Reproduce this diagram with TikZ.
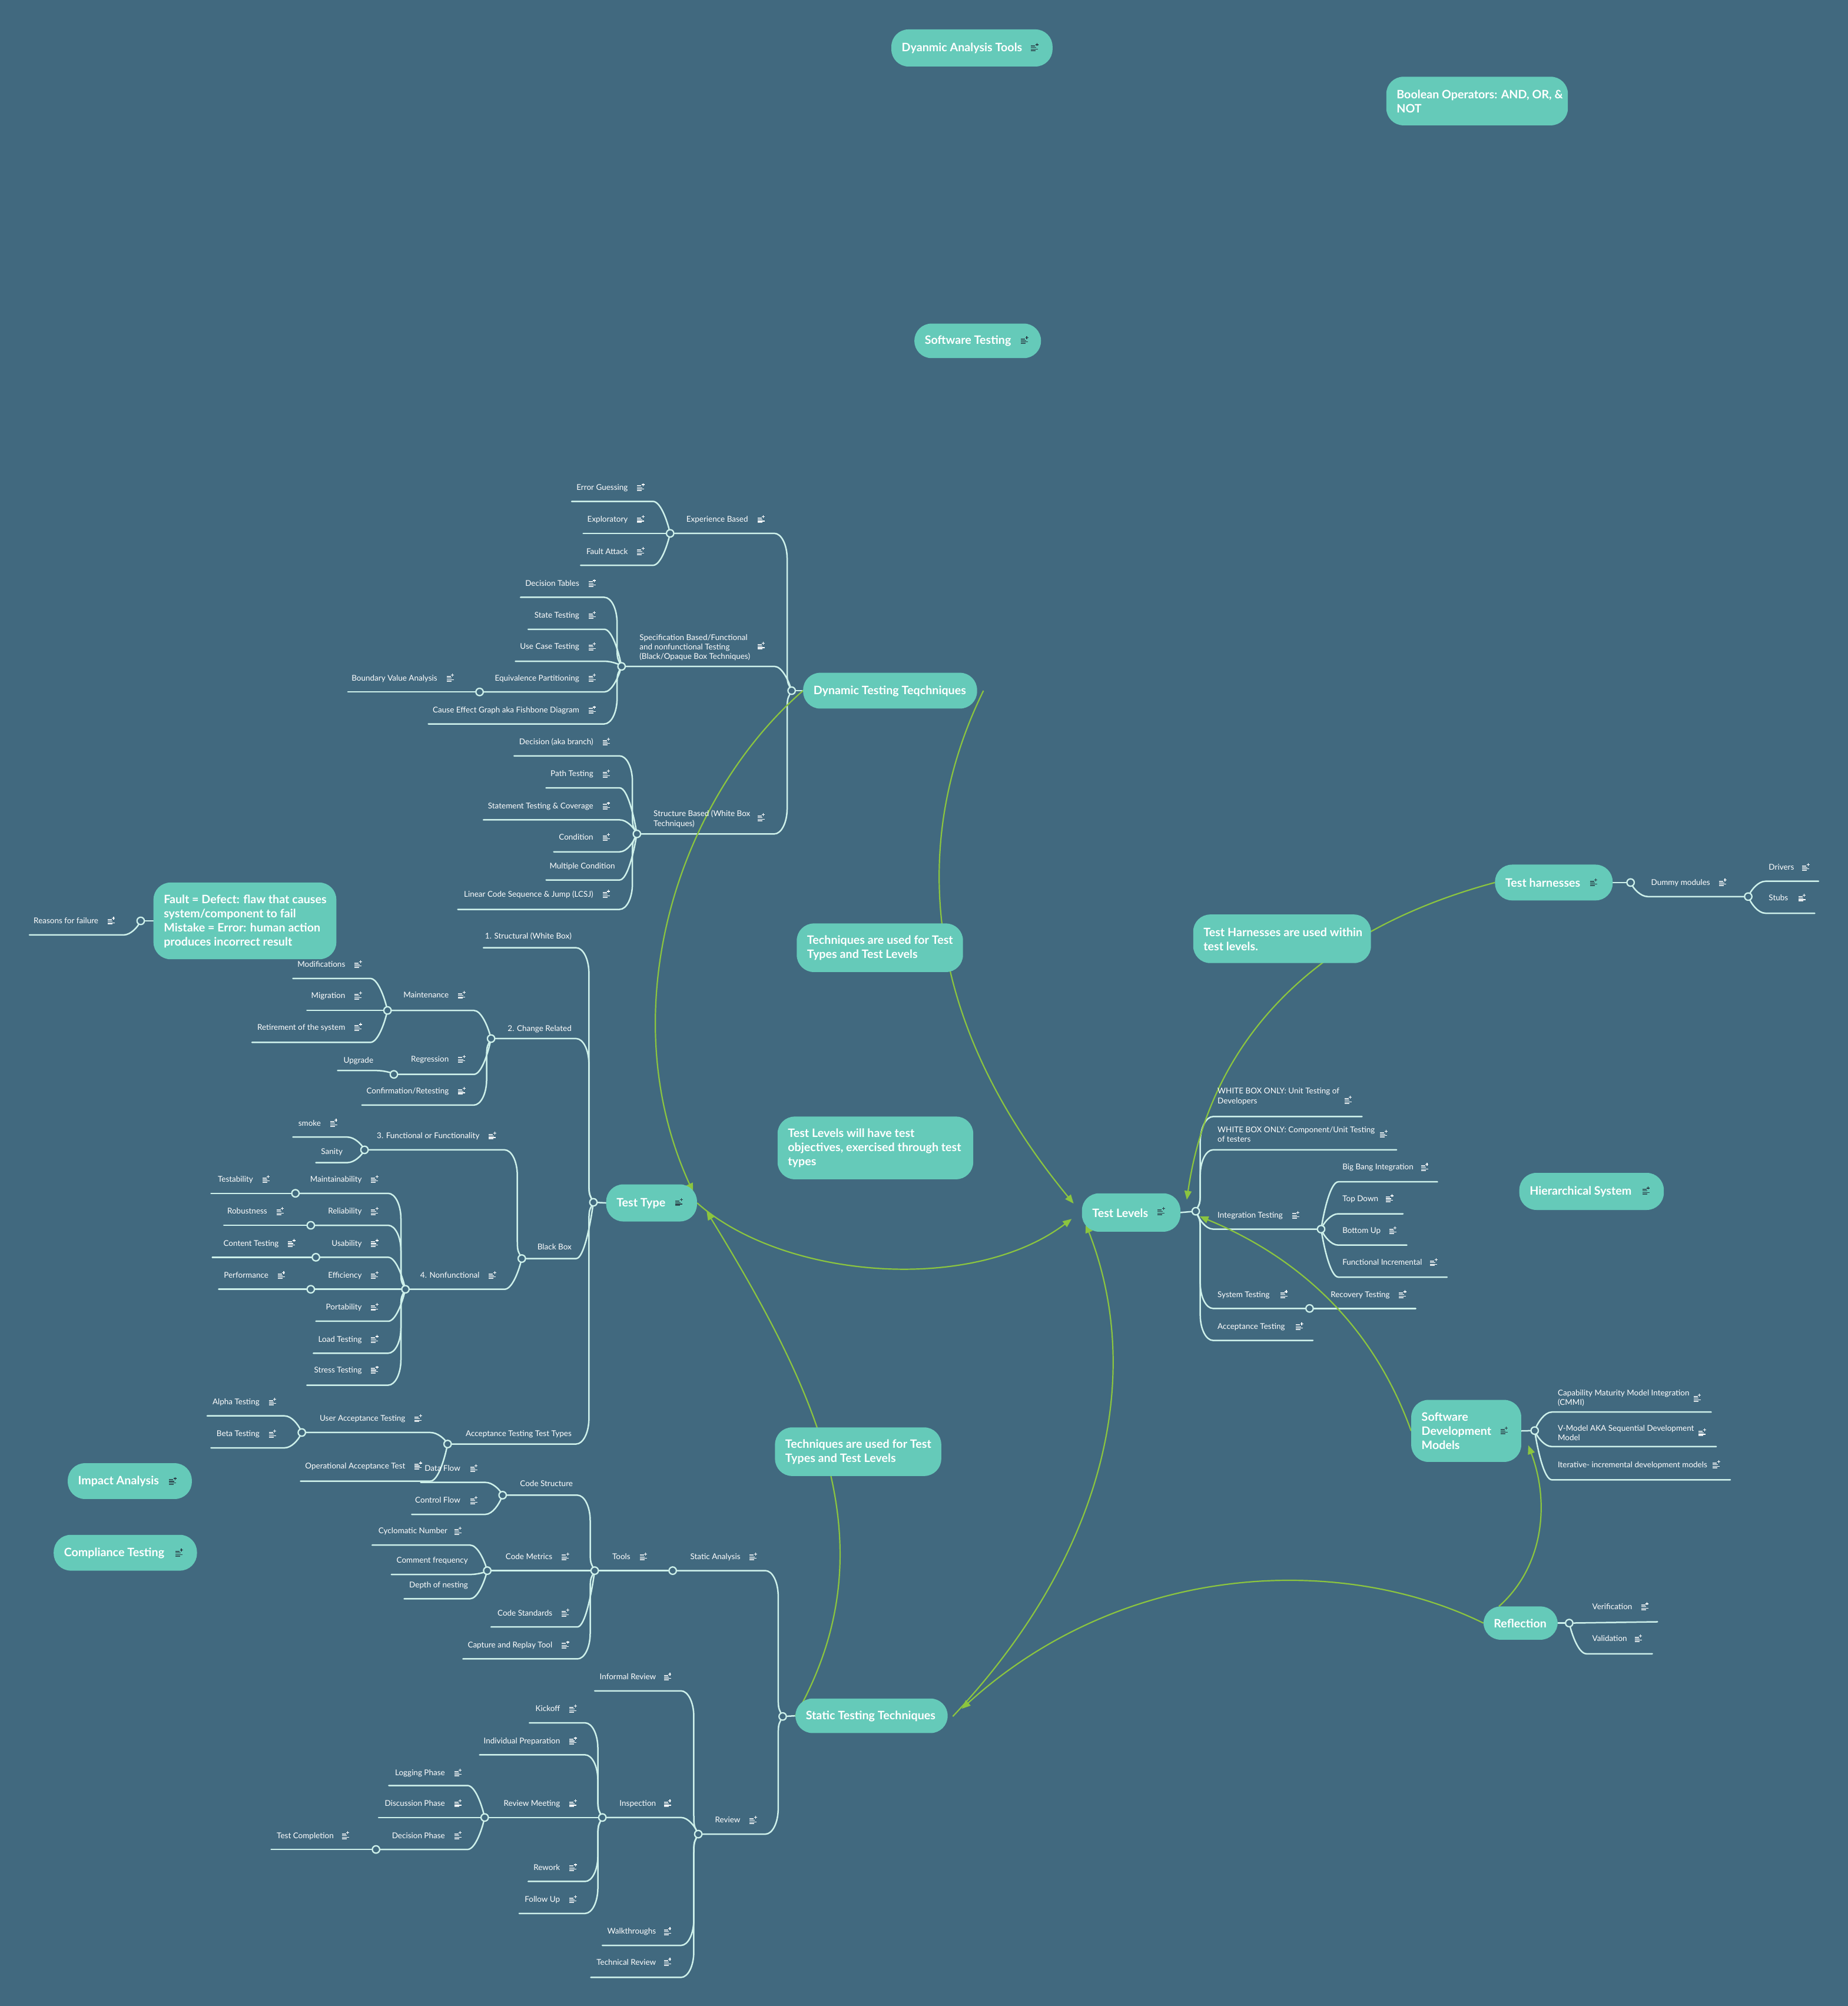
\documentclass[tikz,border=0pt]{standalone}
\usepackage{fontspec}
\setmainfont{Lato}
\usetikzlibrary{arrows.meta}
\definecolor{bgc}{HTML}{41697F}
\definecolor{topc}{HTML}{65CAB9}
\definecolor{linec}{HTML}{CDF0EA}
\definecolor{relc}{HTML}{8BC53F}
\definecolor{icod}{HTML}{2B3F48}
\pgfdeclarelayer{back}\pgfdeclarelayer{branch}\pgfdeclarelayer{rel}
\pgfsetlayers{back,branch,rel,main}
\tikzset{
 br/.style={draw=linec,line width=2.5pt,line cap=round},
 rel/.style={draw=relc,line width=2.2pt,-{Triangle[length=15pt,width=12pt]}},
 circ/.style={circle,draw=linec,line width=2.3pt,fill=bgc,minimum size=12.5pt,inner sep=0pt},
 lab/.style={font=\fontsize{13.5}{16.3}\selectfont,text=white,inner sep=0pt,text height=9.5pt,text depth=3pt,yshift=-1.5pt},
 labm/.style={font=\fontsize{13.5}{16.3}\selectfont,text=white,inner sep=0pt,align=left,yshift=-0.5pt},
 toptxt/.style={font=\fontsize{19.7}{24}\selectfont\bfseries,text=white,inner sep=0pt,align=left,anchor=west,yshift=-0.5pt},
 topbox/.style={fill=topc,rounded corners=29pt,inner sep=0pt}
}
\makeatletter
\newcommand\StorePt[3]{\expandafter\gdef\csname px@#1\endcsname{#2}\expandafter\gdef\csname py@#1\endcsname{#3}}
\newcommand\Ico[3][white]{\begin{scope}[shift={(#2,#3)},x=1pt,y=-1pt]
 \draw[#1,opacity=0.8,line width=2pt] (-6,-2.2)--(1,-2.2) (-6,5.4)--(2,5.4);
 \draw[#1,line width=1.1pt] (-6,0.5)--(2.5,0.5) (-6,3)--(6,3);
 \draw[#1,line width=1.3pt] (4,-7)--(4,-2) (1.5,-4.5)--(6.5,-4.5);
\end{scope}}
\newcommand\Cir[3]{\node[circ] (#1) at (#2,#3) {};\StorePt{#1}{#2}{#3}}
\newcommand\Leaf[3]{\coordinate (#1) at (#2,#3);\StorePt{#1}{#2}{#3}}
\newcommand\BR[2]{%
 \edef\brcx{\csname px@#1\endcsname}\edef\brcy{\csname py@#1\endcsname}%
 \edef\brlx{\csname px@#2\endcsname}\edef\brly{\csname py@#2\endcsname}%
 \pgfmathsetmacro\brd{\brly-\brcy}%
 \pgfmathsetmacro\brad{abs(\brd)}%
 \pgfmathsetmacro\brs{\brd<0?-1:1}%
 \pgfmathsetmacro\brdir{\brlx<\brcx?-1:1}%
 \pgfmathsetmacro\bra{\brs*20}%
 \pgfmathsetmacro\brv{\brcx+\brdir*3.5}%
 \pgfmathsetmacro\bre{\brcx+\brdir*13.5}%
 \pgfmathsetmacro\brm{\brcx+\brdir*8}%
 \pgfmathsetmacro\brp{\brcx+\brdir*2.5}%
 \pgfmathsetmacro\brq{\brcx+\brdir*7.5}%
 \begin{pgfonlayer}{branch}%
 \ifdim\brad pt<1.5pt
  \draw[br] (#1) -- (#2);
 \else\ifdim\brad pt<45pt
  \draw[br] (#1) .. controls (\brp,\brcy+0.4*\brd) and (\brq,\brly) .. (\bre,\brly) -- (#2);
 \else
  \draw[br] (#1) .. controls (\brv,\brcy+0.35*\bra) .. (\brv,\brcy+\bra) -- (\brv,\brly-\bra) .. controls (\brv,\brly-0.45*\bra) and (\brm,\brly) .. (\bre,\brly) -- (#2);
 \fi\fi
 \end{pgfonlayer}}
% leaf, left tree: name parent lineLeft lineY textEast textY text iconX
\newcommand\LfL[8]{\Leaf{#1}{#3}{#4}\BR{#2}{#1}\node[lab,anchor=east] (#1-t) at (#5,#6) {#7};\if\relax\detokenize{#8}\relax\else\Ico{#8}{#6}\fi}
% leaf, right tree: name parent lineRight lineY textWest textY text iconX
\newcommand\LfR[8]{\Leaf{#1}{#3}{#4}\BR{#2}{#1}\node[lab,anchor=west] (#1-t) at (#5,#6) {#7};\if\relax\detokenize{#8}\relax\else\Ico{#8}{#6}\fi}
% circle child: name parent cx cy textEdge textY text iconX
\newcommand\CrL[8]{\Cir{#1}{#3}{#4}\BR{#2}{#1}\node[lab,anchor=east] (#1-t) at (#5,#6) {#7};\if\relax\detokenize{#8}\relax\else\Ico{#8}{#6}\fi}
\newcommand\CrR[8]{\Cir{#1}{#3}{#4}\BR{#2}{#1}\node[lab,anchor=west] (#1-t) at (#5,#6) {#7};\if\relax\detokenize{#8}\relax\else\Ico{#8}{#6}\fi}
% topic: name x1 y1 x2 y2 text
\newcommand\Topic[6]{%
 \pgfmathsetmacro\tw{(#4-#2)*2.1723}\pgfmathsetmacro\th{(#5-#3)*2.1723}%
 \pgfmathsetmacro\tcx{(#2+#4)/2}\pgfmathsetmacro\tcy{(#3+#5)/2}\pgfmathsetmacro\ttx{#2+8}%
 \node[topbox,minimum width=\tw pt,minimum height=\th pt] (#1) at (\tcx,\tcy) {};
 \node[toptxt] (#1-t) at (\ttx,\tcy) {#6};}
\makeatother
\begin{document}
\begin{tikzpicture}[x=2.1723pt,y=-2.1723pt]
\begin{pgfonlayer}{back}
\fill[bgc] (0,0) rectangle (1445,1568.4);
\end{pgfonlayer}
\useasboundingbox (0,0) rectangle (1445,1568.4);

% Topics
\Topic{dat}{697}{23}{823}{52}{Dyanmic Analysis Tools}\Ico[icod]{809}{37}
\Topic{bool}{1084}{60}{1226}{98}{Boolean Operators: AND, OR, \&\\NOT}
\Topic{soft}{715}{253}{814}{280}{Software Testing}\Ico[icod]{801}{266}
\Topic{dyn}{628}{526}{764}{554}{Dynamic Testing Teqchniques}
\Topic{tech1}{623}{722}{753}{760}{Techniques are used for Test\\Types and Test Levels}
\Topic{harn}{933}{715}{1072}{753}{Test Harnesses are used within\\test levels.}
\Topic{th}{1169}{676}{1261}{704}{Test harnesses}\Ico[icod]{1246}{690}
\Topic{fault}{120}{690}{263}{750}{Fault = Defect: flaw that causes\\system/component to fail\\Mistake = Error: human action\\produces incorrect result}
\Topic{obj}{608}{873}{761}{922}{Test Levels will have test\\objectives, exercised through test\\types}
\Topic{tt}{474}{926}{545}{955}{Test Type}\Ico[icod]{531}{940}
\Topic{tl}{846}{933}{923}{963}{Test Levels}\Ico[icod]{908}{947}
\Topic{hier}{1188}{917}{1301}{946}{Hierarchical System}\Ico[icod]{1287}{931}
\Topic{sdm}{1103.5}{1094.5}{1189.5}{1143}{Software\\Development\\Models}\Ico[icod]{1176}{1118.5}
\Topic{tech2}{606}{1116}{736}{1154}{Techniques are used for Test\\Types and Test Levels}
\Topic{imp}{53}{1144}{150}{1172}{Impact Analysis}\Ico[icod]{135}{1158}
\Topic{comp}{42}{1200}{154}{1228}{Compliance Testing}\Ico[icod]{140}{1214}
\Topic{refl}{1160}{1256}{1218}{1282}{Reflection}
\Topic{st}{622}{1328}{741}{1355}{Static Testing Techniques}

% Root circles
\Cir{cD}{619}{540}
\Cir{cTT}{464}{940}
\Cir{cTL}{935}{947}
\Cir{cST}{612}{1342}
\Cir{cFl}{110}{720}
\Cir{cTH}{1275}{690}
\Cir{cSD}{1200}{1118.5}
\Cir{cRf}{1227}{1269}
\begin{pgfonlayer}{branch}
\draw[br] (cD) -- (dyn.west);
\draw[br] (cTT) -- (tt.west);
\draw[br] (cTL) -- (tl.east);
\draw[br] (cST) -- (st.west);
\draw[br] (cFl) -- (fault.west);
\draw[br] (cTH) -- (th.east);
\draw[br] (cSD) -- (sdm.east);
\draw[br] (cRf) -- (refl.east);
\end{pgfonlayer}

% Dynamic testing
\CrL{cE}{cD}{524}{417}{585}{406}{Experience Based}{595}
\LfL{a1}{cE}{447}{392}{491}{381}{Error Guessing}{501}
\LfL{a2}{cE}{456}{417}{491}{406}{Exploratory}{501}
\LfL{a3}{cE}{454}{442}{491}{431}{Fault Attack}{501}
\Cir{cS}{486}{521}\BR{cD}{cS}
\node[labm,anchor=west] (cS-t) at (500,506) {Specification Based/Functional\\and nonfunctional Testing\\(Black/Opaque Box Techniques)};\Ico{595}{505}
\LfL{b1}{cS}{407}{467}{453}{456}{Decision Tables}{463}
\LfL{b2}{cS}{413}{492}{453}{481}{State Testing}{463}
\LfL{b3}{cS}{403}{517}{453}{505.5}{Use Case Testing}{463}
\CrL{cEq}{cS}{375}{541}{453}{530}{Equivalence Partitioning}{463}
\LfL{b4}{cEq}{272}{541}{342}{530}{Boundary Value Analysis}{352}
\LfL{b5}{cS}{335}{566}{453}{555}{Cause Effect Graph aka Fishbone Diagram}{463}
\Cir{cF}{498}{652}\BR{cD}{cF}
\node[labm,anchor=west] (cF-t) at (511,640) {Structure Based (White Box\\Techniques)};\Ico{595}{639}
\LfL{c1}{cF}{402}{591}{464}{580}{Decision (aka branch)}{474}
\LfL{c2}{cF}{427}{616}{464}{605}{Path Testing}{474}
\LfL{c3}{cF}{378}{641}{464}{630}{Statement Testing \& Coverage}{474}
\LfL{c4}{cF}{433}{666}{464}{654.5}{Condition}{474}
\LfL{c5}{cF}{427}{688}{481}{677}{Multiple Condition}{}
\LfL{c6}{cF}{358}{711}{464}{699}{Linear Code Sequence \& Jump (LCSJ)}{474}

% Fault
\LfL{f1}{cFl}{23}{731}{77}{720}{Reasons for failure}{87}

% Test type
\LfL{d1}{cTT}{378}{741}{447}{732}{1. Structural (White Box)}{}
\CrL{c2R}{cTT}{384}{812}{447}{804}{2. Change Related}{}
\CrL{cM}{c2R}{303}{790}{351}{778}{Maintenance}{361}
\LfL{e1}{cM}{229}{765}{270}{754}{Modifications}{280}
\LfL{e2}{cM}{240}{790}{270}{778.5}{Migration}{280}
\LfL{e3}{cM}{197}{815}{270}{803}{Retirement of the system}{280}
\CrL{cR}{c2R}{308}{840}{351}{828}{Regression}{361}
\LfL{e4}{cR}{264}{837}{292}{829}{Upgrade}{}
\LfL{e5}{c2R}{283}{864}{351}{853}{Confirmation/Retesting}{361}
\CrL{cB}{cTT}{408}{984}{447}{975}{Black Box}{}
\CrL{c3F}{cB}{285}{899}{375}{888}{3. Functional or Functionality}{385}
\LfL{g1}{c3F}{229}{889}{251}{878}{smoke}{261}
\LfL{g2}{c3F}{247}{909}{268}{900.5}{Sanity}{}
\CrL{c4N}{cB}{317}{1008}{375}{997}{4. Nonfunctional}{385}
\CrL{h1}{c4N}{231}{933}{283}{922}{Maintainability}{293}
\CrL{h2}{c4N}{243}{958}{283}{947}{Reliability}{293}
\CrL{h3}{c4N}{247}{983}{283}{972}{Usability}{293}
\CrL{h4}{c4N}{243}{1008}{283}{997}{Efficiency}{293}
\LfL{h5}{c4N}{247}{1033}{283}{1022}{Portability}{293}
\LfL{h6}{c4N}{245}{1058}{283}{1047}{Load Testing}{293}
\LfL{h7}{c4N}{240}{1083}{283}{1071}{Stress Testing}{293}
\LfL{i1}{h1}{165}{933}{198}{922}{Testability}{208}
\LfL{i2}{h2}{175}{958}{209}{947}{Robustness}{219}
\LfL{i3}{h3}{166}{983}{218}{972}{Content Testing}{228}
\LfL{i4}{h4}{171}{1008}{210}{997}{Performance}{220}
\CrL{cA}{cTT}{350}{1129}{447}{1121}{Acceptance Testing Test Types}{}
\CrL{cU}{cA}{236}{1120}{317}{1109}{User Acceptance Testing}{327}
\LfL{j1}{cU}{162}{1107}{203}{1096}{Alpha Testing}{213}
\LfL{j2}{cU}{165}{1132}{203}{1121}{Beta Testing}{213}
\LfL{j3}{cA}{235}{1158}{317}{1146}{Operational Acceptance Test}{327}

% Static testing
\CrL{cSA}{cST}{526}{1228}{579}{1217}{Static Analysis}{589}
\CrL{cTl}{cSA}{465}{1228}{493}{1217}{Tools}{503}
\CrL{cCS}{cTl}{393}{1169}{448}{1160}{Code Structure}{}
\LfL{k1}{cCS}{329}{1159}{360}{1148}{Data Flow}{370.5}
\LfL{k2}{cCS}{322}{1184}{360}{1173}{Control Flow}{370.5}
\CrL{cCM}{cTl}{381}{1228}{432}{1217}{Code Metrics}{442}
\LfL{k3}{cCM}{291}{1208}{350}{1197}{Cyclomatic Number}{358}
\LfL{k4}{cCM}{306}{1231}{366}{1220}{Comment frequency}{}
\LfL{k5}{cCM}{316}{1250}{366}{1239}{Depth of nesting}{}
\LfL{k6}{cTl}{384}{1272}{432}{1261}{Code Standards}{442}
\LfL{k7}{cTl}{362}{1297}{432}{1286}{Capture and Replay Tool}{442}
\CrL{cRv}{cST}{546}{1434}{579}{1423}{Review}{589}
\LfL{m1}{cRv}{465}{1322}{513}{1311}{Informal Review}{522}
\CrL{cI}{cRv}{471}{1421}{513}{1410}{Inspection}{522}
\LfL{m2}{cRv}{471}{1521}{513}{1510}{Walkthroughs}{522}
\LfL{m3}{cRv}{462}{1546}{513}{1534}{Technical Review}{522}
\LfL{n1}{cI}{414}{1347}{438}{1336}{Kickoff}{448}
\LfL{n2}{cI}{375}{1372}{438}{1361}{Individual Preparation}{448}
\CrL{cRM}{cI}{379}{1421}{438}{1410}{Review Meeting}{448}
\LfL{n3}{cI}{413}{1471}{438}{1460}{Rework}{448}
\LfL{n4}{cI}{406}{1496}{438}{1485}{Follow Up}{448}
\LfL{o1}{cRM}{304}{1396}{348}{1386}{Logging Phase}{358}
\LfL{o2}{cRM}{296}{1421}{348}{1410}{Discussion Phase}{358}
\CrL{cDP}{cRM}{294}{1446}{348}{1435}{Decision Phase}{358}
\LfL{o3}{cDP}{212}{1446}{261}{1435}{Test Completion}{270}

% Test levels
\Leaf{p1}{1065}{873}\BR{cTL}{p1}
\node[labm,anchor=west] (p1-t) at (952,857) {WHITE BOX ONLY: Unit Testing of\\Developers};\Ico{1054}{860}
\Leaf{p2}{1092}{899}\BR{cTL}{p2}
\node[labm,anchor=west] (p2-t) at (952,886.5) {WHITE BOX ONLY: Component/Unit Testing\\of testers};\Ico{1082}{886.5}
\CrR{cIT}{cTL}{1033}{961}{952}{950}{Integration Testing}{1013}
\LfR{q1}{cIT}{1124}{924}{1049.6}{912.5}{Big Bang Integration}{1114}
\LfR{q2}{cIT}{1097}{949}{1049.6}{937}{Top Down}{1086.6}
\LfR{q3}{cIT}{1100}{973.5}{1049.6}{962}{Bottom Up}{1089}
\LfR{q4}{cIT}{1131.5}{998.5}{1049.6}{987}{Functional Incremental}{1121}
\CrR{cSy}{cTL}{1024}{1023}{952}{1012}{System Testing}{1004}
\LfR{q5}{cSy}{1107}{1023}{1040.4}{1012}{Recovery Testing}{1096.6}
\LfR{q6}{cTL}{1026.6}{1048}{952}{1037}{Acceptance Testing}{1016}

% Harness
\CrR{cDu}{cTH}{1367}{701}{1291}{690}{Dummy modules}{1347}
\LfR{r1}{cDu}{1422}{689}{1383}{678}{Drivers}{1412}
\LfR{r2}{cDu}{1419}{714}{1383}{702}{Stubs}{1409}

% Software development models
\Leaf{s1}{1338}{1104}\BR{cSD}{s1}
\node[labm,anchor=west] (s1-t) at (1218,1093) {Capability Maturity Model Integration\\(CMMI)};\Ico{1327}{1093}
\Leaf{s2}{1342}{1131}\BR{cSD}{s2}
\node[labm,anchor=west] (s2-t) at (1218,1120) {V-Model AKA Sequential Development\\Model};\Ico{1331}{1120}
\LfR{s3}{cSD}{1353}{1157}{1218}{1145}{Iterative- incremental development models}{1342}

% Reflection
\LfR{u1}{cRf}{1296}{1268}{1245}{1256}{Verification}{1286}
\LfR{u2}{cRf}{1292}{1293}{1245}{1281}{Validation}{1281}

% Relations
\coordinate (tipA) at (542,932);
\coordinate (tipB) at (839.5,941);
\coordinate (tipC) at (838,953);
\coordinate (tipD) at (552.5,947);
\coordinate (tipE) at (849,957);
\coordinate (tipF) at (752,1336);
\coordinate (tipG) at (1195,1130);
\coordinate (tipH) at (938,951);
\coordinate (tipI) at (928,938);
\coordinate (fromB) at (769,540);
\coordinate (fromE) at (745,1342);
\coordinate (fromG) at (1172,1256);
\begin{pgfonlayer}{rel}
\draw[rel] (dyn.west) .. controls (530,625) and (477,790) .. (tipA);
\draw[rel] (fromB) .. controls (715,650) and (715,790) .. (tipB);
\draw[rel] (tt.east) .. controls (612,1000) and (760,1012) .. (tipC);
\draw[rel] (st.west) .. controls (697,1210) and (640,1090) .. (tipD);
\draw[rel] (fromE) .. controls (860,1220) and (897,1080) .. (tipE);
\draw[rel] (refl.west) .. controls (1050,1215) and (880,1220) .. (tipF);
\draw[rel] (fromG) .. controls (1207,1225) and (1212,1175) .. (tipG);
\draw[rel] (sdm.west) .. controls (1075,1040) and (1020,985) .. (tipH);
\draw[rel] (th.west) .. controls (1020,730) and (945,820) .. (tipI);
\end{pgfonlayer}
\end{tikzpicture}
\end{document}
